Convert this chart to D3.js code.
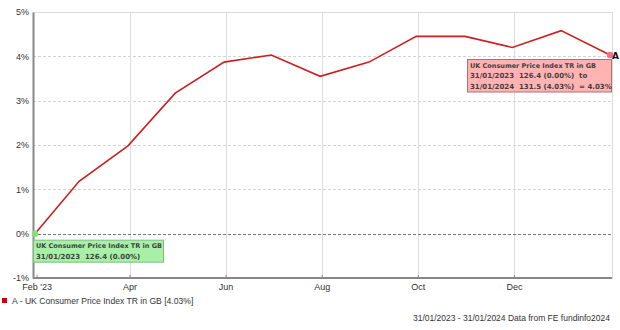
<!DOCTYPE html>
<html>
<head>
<meta charset="utf-8">
<script src="https://cdn.jsdelivr.net/npm/d3@7"></script>
<style>
  body { margin: 0; background: #fff; }
  svg { display: block; font-family: "Liberation Sans", Arial, sans-serif; }
</style>
</head>
<body>
<svg id="chart" width="620" height="330"></svg>
<script>
// monthly values, % total return since 31/01/2023
var dates = ['2023-01-31', '2023-02-28', '2023-03-31', '2023-04-30', '2023-05-31', '2023-06-30',
  '2023-07-31', '2023-08-31', '2023-09-30', '2023-10-31', '2023-11-30', '2023-12-31', '2024-01-31'];
var values = [0, 1.18, 1.98, 3.17, 3.87, 4.03, 3.55, 3.87, 4.45, 4.45, 4.2, 4.58, 4.03];
var yTicks = [-1, 0, 1, 2, 3, 4, 5];
var xTickDates = ['2023-02-01', '2023-04-01', '2023-06-01', '2023-08-01', '2023-10-01', '2023-12-01'];
var xTickLabels = ["Feb '23", 'Apr', 'Jun', 'Aug', 'Oct', 'Dec'];
var startLabel = ['UK Consumer Price Index TR in GB', '31/01/2023  126.4 (0.00%)'];
var endLabel = ['UK Consumer Price Index TR in GB', '31/01/2023  126.4 (0.00%)  to', '31/01/2024  131.5 (4.03%)  = 4.03%'];
var legendText = 'A - UK Consumer Price Index TR in GB [4.03%]';
var footerText = '31/01/2023 - 31/01/2024 Data from FE fundinfo2024';

var parse = d3.timeParse('%Y-%m-%d');
var data = dates.map((d, i) => ({date: parse(d), value: values[i]}));

var svg = d3.select('#chart');
var plotLeft = 33, plotRight = 612, plotTop = 12, plotBottom = 278;

var x = d3.scaleTime()
  .domain([data[0].date, data[data.length - 1].date])
  .range([35, 610]);
var y = d3.scaleLinear().domain([-1, 5]).range([plotBottom, plotTop]);

// frame
svg.append('rect')
  .attr('x', plotLeft + 0.5).attr('y', plotTop + 0.5)
  .attr('width', plotRight - plotLeft).attr('height', plotBottom - plotTop)
  .attr('fill', 'none').attr('stroke', '#dcdcdc');

// vertical grid
svg.selectAll('.vgrid').data(xTickDates.slice(1)).enter().append('line')
  .attr('class', 'vgrid')
  .attr('x1', d => Math.round(x(parse(d))) + 0.5).attr('x2', d => Math.round(x(parse(d))) + 0.5)
  .attr('y1', plotTop).attr('y2', plotBottom)
  .attr('stroke', '#dedede').attr('stroke-width', 1);

// horizontal grid
svg.selectAll('.hgrid').data(yTicks.filter(d => d > 0 && d < 5)).enter().append('line')
  .attr('class', 'hgrid')
  .attr('x1', plotLeft).attr('x2', plotRight)
  .attr('y1', d => Math.round(y(d)) + 0.5).attr('y2', d => Math.round(y(d)) + 0.5)
  .attr('stroke', '#d4d4d4').attr('stroke-dasharray', '3,2');

// zero line
svg.append('line')
  .attr('x1', plotLeft).attr('x2', plotRight)
  .attr('y1', Math.round(y(0)) + 0.5).attr('y2', Math.round(y(0)) + 0.5)
  .attr('stroke', '#777').attr('stroke-dasharray', '3,2');

// y axis
var yAxis = d3.axisLeft(y).tickValues(yTicks).tickSize(0).tickPadding(4)
  .tickFormat(d => d + '%');
svg.append('g').attr('transform', `translate(${plotLeft},0)`).call(yAxis)
  .call(g => g.select('.domain').attr('stroke', '#888').attr('stroke-width', 2))
  .call(g => g.selectAll('text').attr('font-size', 9).attr('fill', '#333')
    .attr('font-family', '"Liberation Sans", Arial, sans-serif'));

// x axis
var xAxis = d3.axisBottom(x).tickValues(xTickDates.map(parse)).tickSize(3).tickPadding(3)
  .tickFormat((d, i) => xTickLabels[i]);
svg.append('g').attr('transform', `translate(0,${plotBottom})`).call(xAxis)
  .call(g => g.select('.domain').attr('d', `M${plotLeft},0H${plotRight}`).attr('stroke', '#888').attr('stroke-width', 2))
  .call(g => g.selectAll('.tick line').attr('stroke', '#888').attr('transform', 'translate(0,-3)'))
  .call(g => g.selectAll('text').attr('font-size', 9).attr('fill', '#333')
    .attr('font-family', '"Liberation Sans", Arial, sans-serif'));

// series line
var line = d3.line().x(d => x(d.date)).y(d => y(d.value));
svg.append('path').datum(data)
  .attr('d', line)
  .attr('fill', 'none').attr('stroke', '#cc1f1f').attr('stroke-width', 1.6);

// start / end markers
var first = data[0], last = data[data.length - 1];
svg.append('circle').attr('cx', x(first.date)).attr('cy', y(first.value)).attr('r', 3.2)
  .attr('fill', '#7ee07e');
svg.append('circle').attr('cx', x(last.date)).attr('cy', y(last.value)).attr('r', 3.2)
  .attr('fill', '#f07090');
svg.append('text').attr('x', x(last.date) + 2).attr('y', y(last.value) + 3.5)
  .attr('font-size', 9).attr('font-weight', 'bold').attr('fill', '#111')
  .attr('font-family', '"DejaVu Sans", Verdana, sans-serif')
  .text('A');

// label box - title line set a bit smaller, as in the original
function labelBox(lines, bx, by, w, fill, stroke) {
  var lh = 10.5;
  var g = svg.append('g').attr('transform', `translate(${bx},${by})`);
  g.append('rect').attr('x', 0.5).attr('y', 0.5)
    .attr('width', w).attr('height', lines.length * lh + 1)
    .attr('fill', fill).attr('stroke', stroke);
  g.selectAll('text').data(lines).enter().append('text')
    .attr('x', 3).attr('y', (d, i) => 8.5 + i * lh)
    .attr('font-family', '"DejaVu Sans", Verdana, sans-serif')
    .attr('font-size', (d, i) => i === 0 ? 6.5 : 7)
    .attr('font-weight', 'bold').attr('fill', '#404040')
    .attr('xml:space', 'preserve')
    .style('white-space', 'pre')
    .text(d => d);
}
labelBox(startLabel, x(first.date) - 2, y(first.value) + 6, 130, '#a8f0a8', '#78c078');
labelBox(endLabel, 467, y(last.value) + 4, 144, '#ffb3b3', '#b07070');

// legend
svg.append('rect').attr('x', 2).attr('y', 298).attr('width', 5).attr('height', 5).attr('fill', '#cc0000');
svg.append('text').attr('x', 12).attr('y', 304)
  .attr('font-size', 8.6).attr('fill', '#333')
  .text(legendText);

// footer
svg.append('text').attr('x', 610).attr('y', 321).attr('text-anchor', 'end')
  .attr('font-size', 8.5).attr('fill', '#333')
  .text(footerText);
</script>
</body>
</html>
